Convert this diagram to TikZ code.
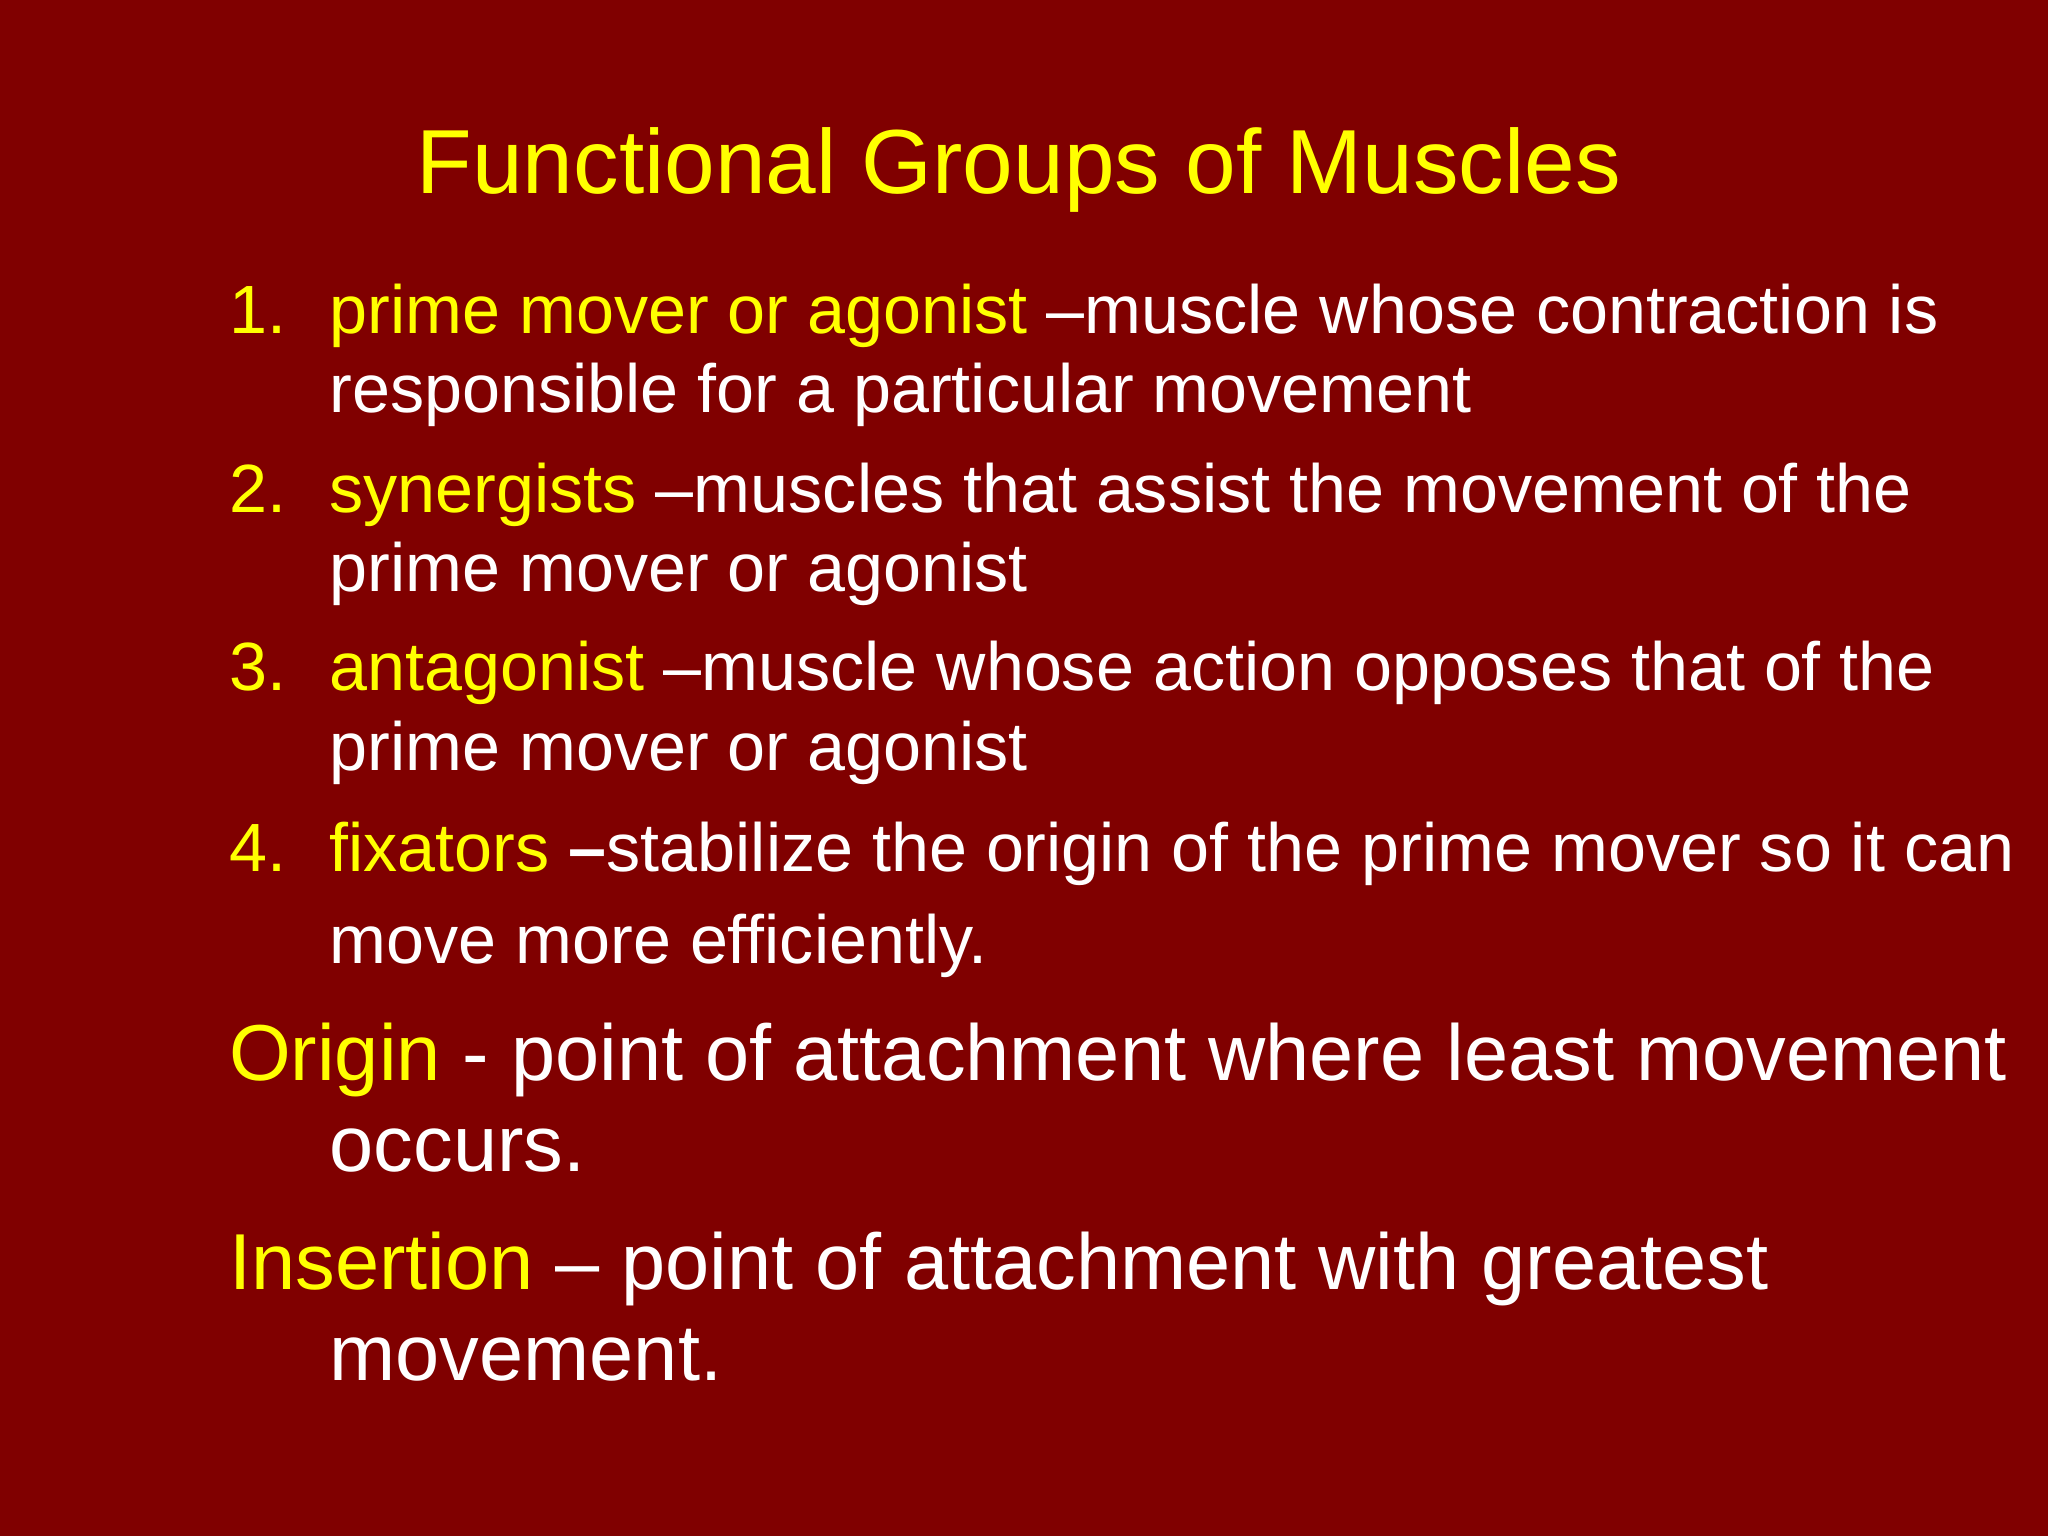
\documentclass[tikz,border=0pt]{standalone}
\usepackage{fontspec}
\setmainfont{Liberation Sans}
\definecolor{bg}{HTML}{800000}
\definecolor{yel}{HTML}{FFFF00}
\begin{document}
\begin{tikzpicture}[x=0.459184pt,y=-0.459184pt,
  ln/.style={anchor=base west,inner sep=0pt,text=white,font=\fontsize{24}{29}\selectfont},
  big/.style={anchor=base west,inner sep=0pt,text=white,font=\fontsize{27.9}{34}\selectfont}]
\fill[bg] (0,0) rectangle (1568,1176);
\useasboundingbox (0,0) rectangle (1568,1176);
\node[anchor=base,inner sep=0pt,text=yel,font=\fontsize{32}{38}\selectfont] (title) at (780,148) {Functional Groups of Muscles};
\node[ln,text=yel] (n1) at (175,255) {1.};
\node[ln] (l1a) at (252,255) {\textcolor{yel}{prime mover or agonist} –muscle whose contraction is};
\node[ln] (l1b) at (252,316) {responsible for a particular movement};
\node[ln,text=yel] (n2) at (175,392) {2.};
\node[ln] (l2a) at (252,392) {\textcolor{yel}{synergists} –muscles that assist the movement of the};
\node[ln] (l2b) at (252,453) {prime mover or agonist};
\node[ln,text=yel] (n3) at (175,529) {3.};
\node[ln] (l3a) at (252,529) {\textcolor{yel}{antagonist} –muscle whose action opposes that of the};
\node[ln] (l3b) at (252,590) {prime mover or agonist};
\node[ln,text=yel] (n4) at (175,667) {4.};
\node[ln] (l4a) at (252,667) {\textcolor{yel}{fixators} \textbf{–}stabilize the origin of the prime mover so it can};
\node[ln] (l4b) at (252,738) {move more efficiently.};
\node[big] (o1) at (175,827) {\textcolor{yel}{Origin} - point of attachment where least movement};
\node[big] (o2) at (252,897) {occurs.};
\node[big] (i1) at (175,987) {\textcolor{yel}{Insertion} – point of attachment with greatest};
\node[big] (i2) at (252,1057) {movement.};
\end{tikzpicture}
\end{document}
